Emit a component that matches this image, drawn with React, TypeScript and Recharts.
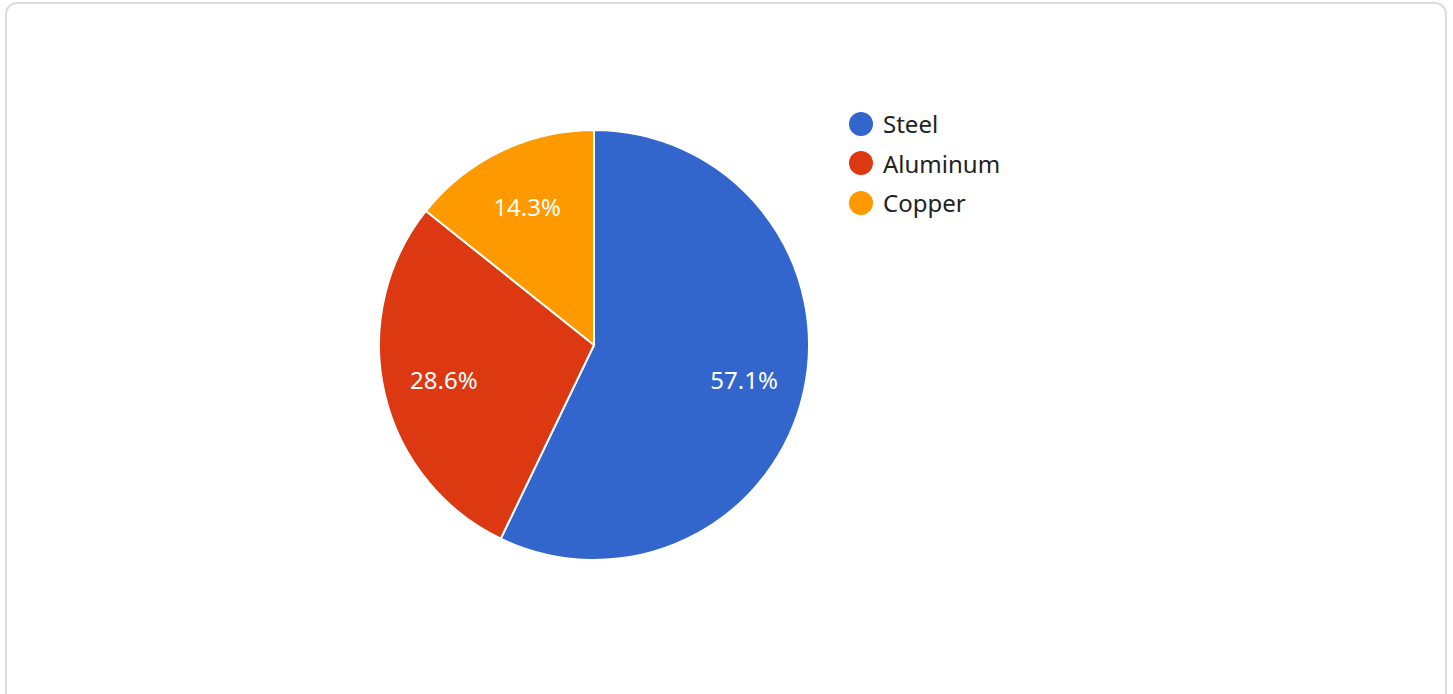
import React from "react";
import { PieChart, Pie, Cell } from "recharts";

const metals = ["Steel", "Aluminum", "Copper"];
const amounts = [4, 2, 1];
const colors = ["#3366cc", "#dc3912", "#ff9900"];

const data = metals.map((name, i) => ({ name, value: amounts[i] }));

const RAD = Math.PI / 180;

const renderLabel = (props: any) => {
  const { cx, cy, midAngle, percent } = props;
  const r = 154;
  const x = cx + r * Math.cos(-midAngle * RAD);
  const y = cy + r * Math.sin(-midAngle * RAD);
  return (
    <text
      x={x}
      y={y}
      fill="#ffffff"
      fontSize={24}
      textAnchor="middle"
      dominantBaseline="central"
    >
      {`${(percent * 100).toFixed(1)}%`}
    </text>
  );
};

export default function App() {
  return (
    <div
      style={{
        position: "absolute",
        left: 5,
        top: 2,
        width: 1438,
        height: 700,
        border: "2px solid #dddddd",
        borderRadius: 12,
        background: "#ffffff",
        fontFamily: "'Noto Sans', 'Open Sans', sans-serif",
      }}
    >
      <PieChart width={1438} height={696}>
        <Pie
          data={data}
          dataKey="value"
          nameKey="name"
          cx={582}
          cy={336}
          outerRadius={215}
          startAngle={90}
          endAngle={-270}
          stroke="#ffffff"
          strokeWidth={2}
          label={renderLabel}
          labelLine={false}
          isAnimationActive={false}
        >
          {data.map((d, i) => (
            <Cell key={d.name} fill={colors[i]} />
          ))}
        </Pie>
      </PieChart>
      {/* legend */}
      <div style={{ position: "absolute", left: 842, top: 100 }}>
        {metals.map((m, i) => (
          <div key={m} style={{ display: "flex", alignItems: "center", height: 39.5 }}>
            <svg width={24} height={24} style={{ marginRight: 10 }}>
              <circle cx={12} cy={12} r={12} fill={colors[i]} />
            </svg>
            <span style={{ fontSize: 24, color: "#222222" }}>{m}</span>
          </div>
        ))}
      </div>
    </div>
  );
}
